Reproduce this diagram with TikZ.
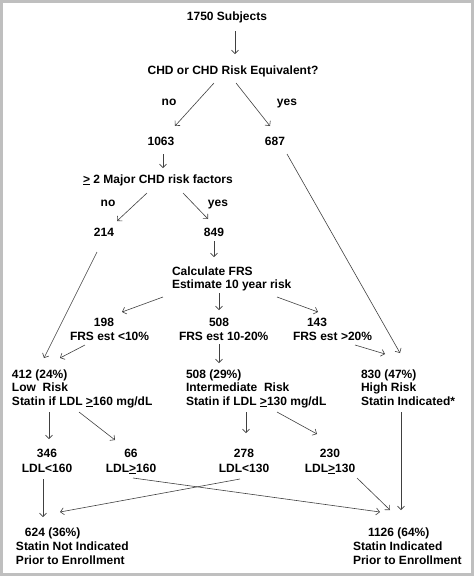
\documentclass[tikz,border=0pt]{standalone}
\usepackage{fontspec}
\setmainfont{Liberation Sans}
\usetikzlibrary{arrows.meta}
\tikzset{
  txt/.style={inner sep=0pt, outer sep=0pt, font=\bfseries\fontsize{12}{13.5}\selectfont},
  ldl/.style={txt, align=center, font=\bfseries\fontsize{12}{15}\selectfont},
  arr/.style={draw=black!75, line width=0.6pt, -{Straight Barb[length=3.5pt,width=7pt]}},
}
\begin{document}
\begin{tikzpicture}[x=1pt,y=-1pt]
\useasboundingbox (0,0) rectangle (474,576);
\draw[black!25, line width=3pt] (1.5,1.5) rectangle (472.5,574.5);

\node[txt, anchor=base] (s) at (227,20) {1750 Subjects};
\node[txt, anchor=base] (chd) at (233,74) {CHD or CHD Risk Equivalent?};
\node[txt, anchor=base] (no1) at (169,105) {no};
\node[txt, anchor=base] (yes1) at (287,105) {yes};
\node[txt, anchor=base] (n1063) at (161,145) {1063};
\node[txt, anchor=base] (n687) at (275,145) {687};
\node[txt, anchor=base] (maj) at (158,183) {\underline{>} 2 Major CHD risk factors};
\node[txt, anchor=base] (no2) at (108,206) {no};
\node[txt, anchor=base] (yes2) at (218,206) {yes};
\node[txt, anchor=base] (n214) at (104,236) {214};
\node[txt, anchor=base] (n849) at (214,236) {849};
\node[txt, align=left, anchor=base west, font=\bfseries\fontsize{12}{13}\selectfont] (frs) at (172,288) {Calculate FRS\\Estimate 10 year risk};
\node[txt, align=left, anchor=base west, font=\bfseries\fontsize{12}{14}\selectfont] (n198) at (70,340) {\hspace*{24pt}198\\FRS est <10\%};
\node[txt, align=left, anchor=base west, font=\bfseries\fontsize{12}{14}\selectfont] (n508a) at (179,340) {\hspace*{30pt}508\\FRS est 10-20\%};
\node[txt, align=left, anchor=base west, font=\bfseries\fontsize{12}{14}\selectfont] (n143) at (293,340) {\hspace*{14pt}143\\FRS est >20\%};
\node[txt, align=left, anchor=base west] (n412) at (12,405) {412 (24\%)\\Low\ \ Risk\\Statin if LDL \underline{>}160 mg/dL};
\node[txt, align=left, anchor=base west] (n508b) at (186,405) {508 (29\%)\\Intermediate\ \ Risk\\Statin if LDL \underline{>}130 mg/dL};
\node[txt, align=left, anchor=base west] (n830) at (361,405) {830 (47\%)\\High Risk\\Statin Indicated*};
\node[ldl, anchor=base] (n346) at (47,472) {346\\LDL<160};
\node[ldl, anchor=base] (n66) at (131,472) {66\\LDL\underline{>}160};
\node[ldl, anchor=base] (n278) at (244,472) {278\\LDL<130};
\node[ldl, anchor=base] (n230) at (330,472) {230\\LDL\underline{>}130};
\node[txt, align=left, anchor=base west, font=\bfseries\fontsize{12}{14}\selectfont] (n624) at (16,564) {\hspace*{9pt}624 (36\%)\\Statin Not Indicated\\Prior to Enrollment};
\node[txt, align=left, anchor=base west, font=\bfseries\fontsize{12}{14}\selectfont] (n1126) at (353,564) {\hspace*{15pt}1126 (64\%)\\Statin Indicated\\Prior to Enrollment};

\draw[arr] ([shift={(8,11)}]s.base) -- ([shift={(2,-20)}]chd.base);
\draw[arr] ([shift={(-19,9)}]chd.base) -- ([shift={(14,-19)}]n1063.base);
\draw[arr] ([shift={(3,9)}]chd.base) -- ([shift={(-5,-19)}]n687.base);
\draw[arr] ([shift={(2,9)}]n1063.base) -- ([shift={(5,-15)}]maj.base);
\draw[arr] ([shift={(12,9)}]n687.base) -- ([shift={(39,-52)}]n830.base west);
\draw[arr] ([shift={(-11,10)}]maj.base) -- ([shift={(13,-15)}]n214.base);
\draw[arr] ([shift={(25,10)}]maj.base) -- ([shift={(-6,-17)}]n849.base);
\draw[arr] ([shift={(0,5)}]n849.base) -- ([shift={(42,-31)}]frs.base west);
\draw[arr] ([shift={(-9,9)}]frs.base west) -- ([shift={(52,-28)}]n198.base west);
\draw[arr] ([shift={(47,5)}]frs.base west) -- ([shift={(40,-30)}]n508a.base west);
\draw[arr] ([shift={(105,9)}]frs.base west) -- ([shift={(25,-28)}]n143.base west);
\draw[arr] ([shift={(-7,16)}]n214.base) -- ([shift={(32,-47)}]n412.base west);
\draw[arr] ([shift={(15,5)}]n198.base west) -- ([shift={(48,-47)}]n412.base west);
\draw[arr] ([shift={(40,4)}]n508a.base west) -- ([shift={(33,-42)}]n508b.base west);
\draw[arr] ([shift={(62,5)}]n143.base west) -- ([shift={(24,-51)}]n830.base west);
\draw[arr] ([shift={(37,7)}]n412.base west) -- ([shift={(2,-33)}]n346.base);
\draw[arr] ([shift={(67,7)}]n412.base west) -- ([shift={(-16,-32)}]n66.base);
\draw[arr] ([shift={(60,7)}]n508b.base west) -- ([shift={(2,-39)}]n278.base);
\draw[arr] ([shift={(91,7)}]n508b.base west) -- ([shift={(-13,-38)}]n230.base);
\draw[arr] ([shift={(40,7)}]n830.base west) -- ([shift={(48,-54)}]n1126.base west);
\draw[arr] ([shift={(-4,7)}]n346.base) -- ([shift={(27,-47)}]n624.base west);
\draw[arr] ([shift={(-4,7)}]n278.base) -- ([shift={(44,-52)}]n624.base west);
\draw[arr] ([shift={(2,6)}]n66.base) -- ([shift={(27,-52)}]n1126.base west);
\draw[arr] ([shift={(27,6)}]n230.base) -- ([shift={(37,-54)}]n1126.base west);
\end{tikzpicture}
\end{document}
